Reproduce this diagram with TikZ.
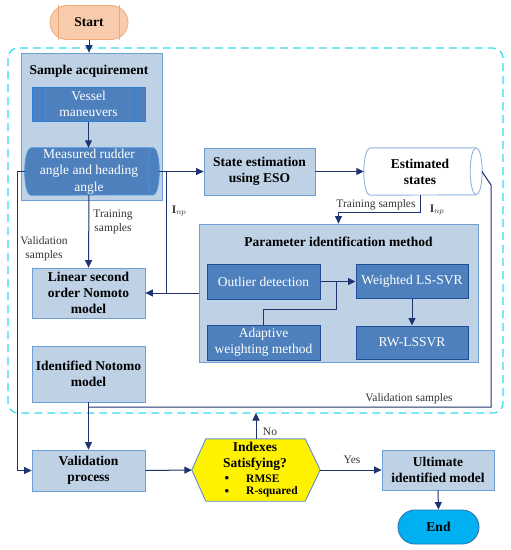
\documentclass[tikz,border=0pt]{standalone}
\usepackage{fontspec}
\setmainfont{Liberation Serif}
\usetikzlibrary{arrows.meta,calc}
\definecolor{navy}{HTML}{1F3370}
\definecolor{lfill}{HTML}{BED1E5}
\definecolor{lborder}{HTML}{6E9FD3}
\definecolor{dfill}{HTML}{4D80BC}
\definecolor{dborder}{HTML}{1F4E96}
\definecolor{vborder}{HTML}{2F7FD8}
\definecolor{cborder}{HTML}{4A90D9}
\definecolor{eborder}{HTML}{8FB4DE}
\definecolor{startfill}{HTML}{F8CBAD}
\definecolor{startborder}{HTML}{F0A878}
\definecolor{endfill}{HTML}{00B0F0}
\definecolor{endborder}{HTML}{2E75B6}
\definecolor{dashcyan}{HTML}{33DDEE}
\definecolor{labelgray}{HTML}{333333}
\definecolor{hexborder}{HTML}{5B8FD0}
\begin{document}
\begin{tikzpicture}[x=1pt,y=-1pt]
\tikzset{
  lbox/.style={draw=lborder, fill=lfill, line width=0.8pt, inner sep=0pt, align=center, font=\bfseries\fontsize{13.5}{16}\selectfont},
  dbox/.style={draw=dborder, fill=dfill, line width=1pt, text=white, inner sep=0pt, align=center, font=\fontsize{13.5}{16}\selectfont},
  lbl/.style={text=labelgray, font=\fontsize{11.5}{14}\selectfont, align=center, inner sep=0pt},
  conn/.style={draw=navy, line width=1pt},
  arr/.style={conn, -{Triangle[length=7.5pt,width=7pt]}},
  frame/.style={inner sep=0pt, align=center}
}
\useasboundingbox (0,0) rectangle (511,550);

% dashed frame
\draw[dashcyan, line width=1.2pt, dash pattern=on 8pt off 5pt, rounded corners=10pt] (8,48) rectangle (503,413);

% Start
\node[draw=startborder, fill=startfill, line width=0.8pt, rounded corners=17pt, minimum width=78pt, minimum height=34pt, inner sep=0pt, font=\bfseries\fontsize{13.5}{16}\selectfont] (start) at (89,22.5) {Start};
\draw[startborder, line width=0.8pt] ([xshift=9pt]start.north west) -- ([xshift=9pt]start.south west);
\draw[startborder, line width=0.8pt] ([xshift=-9pt]start.north east) -- ([xshift=-9pt]start.south east);

% Sample acquirement
\node[lbox, minimum width=141pt, minimum height=147pt] (sample) at (91.5,126.5) {};
\node[frame, font=\bfseries\fontsize{13.5}{16}\selectfont] (sampletitle) at (89,71) {Sample acquirement};
\node[dbox, draw=vborder, minimum width=113pt, minimum height=34pt] (vessel) at (88.5,104) {Vessel\\maneuvers};
\draw[vborder, line width=1pt] ([xshift=11pt]vessel.north west) -- ([xshift=11pt]vessel.south west);
\draw[vborder, line width=1pt] ([xshift=-11pt]vessel.north east) -- ([xshift=-11pt]vessel.south east);

% measured cylinder
\node[frame, minimum width=128pt, minimum height=47pt] (meas) at (89,171.5) {};
\fill[dfill] ([xshift=6pt]meas.north west) -- (meas.north east) arc[start angle=90, end angle=-90, x radius=6pt, y radius=23.5pt] -- ([xshift=6pt]meas.south west) arc[start angle=270, end angle=90, x radius=6pt, y radius=23.5pt] -- cycle;
\draw[cborder, line width=0.9pt] ([xshift=6pt]meas.north west) -- (meas.north east) arc[start angle=90, end angle=-90, x radius=6pt, y radius=23.5pt] -- ([xshift=6pt]meas.south west) arc[start angle=270, end angle=90, x radius=6pt, y radius=23.5pt] -- cycle;
\draw[cborder, line width=0.9pt] (meas.north east) arc[start angle=90, end angle=270, x radius=6pt, y radius=23.5pt];
\node[frame, text=white, font=\fontsize{13.5}{16.5}\selectfont] (meastext) at (meas) {Measured rudder\\angle and heading\\angle};

% State estimation
\node[lbox, minimum width=111pt, minimum height=47pt] (state) at (259.5,171.5) {State estimation\\using ESO};

% Estimated states cylinder
\node[frame, minimum width=112pt, minimum height=47pt] (est) at (420,171.5) {};
\draw[eborder, fill=white, line width=0.9pt] ([xshift=6pt]est.north west) -- (est.north east) arc[start angle=90, end angle=-90, x radius=6pt, y radius=23.5pt] -- ([xshift=6pt]est.south west) arc[start angle=270, end angle=90, x radius=6pt, y radius=23.5pt] -- cycle;
\draw[eborder, line width=0.9pt] (est.north east) arc[start angle=90, end angle=270, x radius=6pt, y radius=23.5pt];
\node[frame, font=\bfseries\fontsize{13.5}{16}\selectfont] (esttext) at (est) {Estimated\\states};

% Linear model
\node[lbox, minimum width=113pt, minimum height=50pt] (linear) at (88.5,293) {Linear second\\order Nomoto\\model};
\node[lbox, minimum width=113pt, minimum height=56pt] (ident) at (88.5,374) {Identified Notomo\\model};

% Parameter identification
\node[lbox, minimum width=279pt, minimum height=138pt] (param) at (338.5,293) {};
\node[frame, font=\bfseries\fontsize{13.5}{16}\selectfont] (paramtitle) at (338.5,242) {Parameter identification method};
\node[dbox, minimum width=113pt, minimum height=35pt] (outlier) at (263.5,281.5) {Outlier detection};
\node[dbox, minimum width=113pt, minimum height=35pt] (adaptive) at (263.5,342.5) {Adaptive\\weighting method};
\node[dbox, minimum width=112pt, minimum height=34pt] (wls) at (412,281.5) {Weighted LS-SVR};
\node[dbox, minimum width=112pt, minimum height=33pt] (rw) at (412,342.5) {RW-LSSVR};

% Validation
\node[lbox, minimum width=113pt, minimum height=41pt] (valid) at (88.5,470.5) {Validation\\process};

% Hexagon
\node[frame, minimum width=128pt, minimum height=62pt] (hexf) at (256,470) {};
\draw[hexborder, fill=yellow, line width=0.9pt] (hexf.west) -- ([xshift=14pt]hexf.north west) -- ([xshift=-15pt]hexf.north east) -- (hexf.east) -- ([xshift=-15pt]hexf.south east) -- ([xshift=14pt]hexf.south west) -- cycle;
\node[frame, font=\bfseries\fontsize{13.5}{16.5}\selectfont] (hex) at (255,456.5) {Indexes\\Satisfying?};
\node[frame, font=\bfseries\fontsize{13}{13}\selectfont] (b1) at (227,479) {\textbullet};
\node[frame, font=\bfseries\fontsize{13}{13}\selectfont] (b2) at (227,492) {\textbullet};
\node[frame, anchor=west, font=\bfseries\fontsize{11.5}{13}\selectfont] (rmse) at (246,479) {RMSE};
\node[frame, anchor=west, font=\bfseries\fontsize{11.5}{13}\selectfont] (rsq) at (246,492) {R-squared};

% Ultimate and End
\node[lbox, minimum width=112pt, minimum height=40pt] (ult) at (438,470) {Ultimate\\identified model};
\node[draw=endborder, fill=endfill, line width=0.9pt, rounded corners=17pt, minimum width=81pt, minimum height=34pt, inner sep=0pt, font=\bfseries\fontsize{13.5}{16}\selectfont] (end) at (438.5,527) {End};

% coordinates
\coordinate (j1) at (166,171.5);
\coordinate (j2) at (166,293);
\coordinate (v1) at (17,171.5);
\coordinate (v2) at (17,470.5);
\coordinate (t1) at (420,212);
\coordinate (t2) at (338.5,212);
\coordinate (r0) at (482,171.5);
\coordinate (r1) at (491,185);
\coordinate (r2) at (491,407);
\coordinate (r3) at (88.5,407);
\coordinate (a1) at (263.5,309);
\coordinate (a2) at (336,309);
\coordinate (a3) at (336,281.5);
\coordinate (no) at (256,413);

% connectors
\draw[arr] (start.south) -- (start.south |- sample.north);
\draw[arr] (vessel.south) -- (vessel.south |- meas.north);
\draw[arr] ([xshift=6pt]meas.east) -- (state.west);
\draw[conn] (j1) -- (j2);
\draw[arr] (param.west) -- (linear.east);
\draw[arr] (meas.south) -- (linear.north);
\draw[arr] (meas.west) -- (v1) -- (v2) -- (valid.west);
\draw[arr] (state.east) -- (est.west);
\draw[arr] (est.south) -- (t1) -- (t2) -- (param.north);
\draw[conn] (r0) -- (r1) -- (r2) -- (r3);
\draw[arr] (ident.south) -- (valid.north);
\draw[arr] (outlier.east) -- (wls.west);
\draw[conn] (adaptive.north) -- (a1) -- (a2) -- (a3);
\draw[arr] (wls.south) -- (rw.north);
\draw[arr] (hexf.east) -- (ult.west);
\draw[arr] (valid.east) -- (hexf.west);
\draw[arr] (hexf.north) -- (no);
\draw[arr] (ult.south) -- (end.north);

% labels
\node[lbl] (lnp1) at (179,211) {$\mathbf{I}_{np}$};
\node[lbl] (lnp2) at (437,210) {$\mathbf{I}_{np}$};
\node[lbl] (ltr1) at (113,222) {Training\\samples};
\node[lbl] (lva1) at (44,249) {Validation\\samples};
\node[lbl] (ltr2) at (376,205) {Training samples};
\node[lbl] (lva2) at (409,399) {Validation samples};
\node[lbl] (lno) at (270,432) {No};
\node[lbl] (lyes) at (352,460) {Yes};
\end{tikzpicture}
\end{document}
